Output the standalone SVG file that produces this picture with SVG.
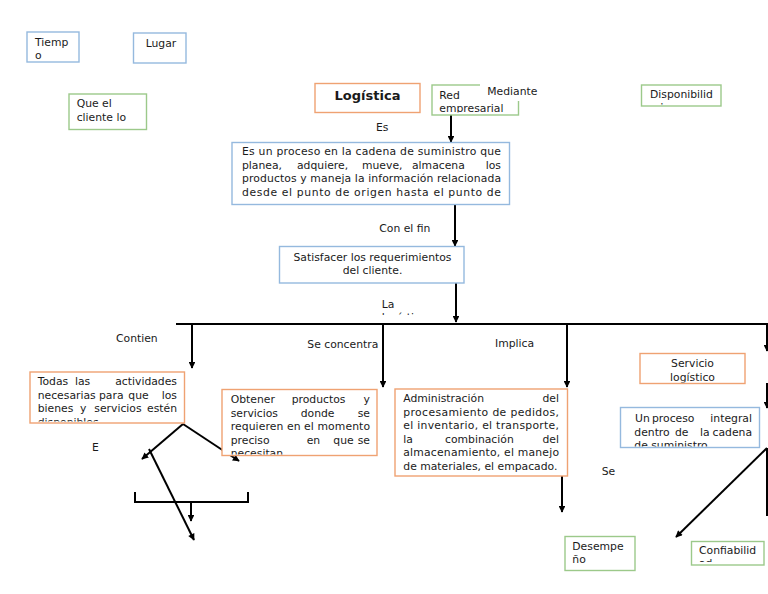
<svg xmlns="http://www.w3.org/2000/svg" width="768" height="594" viewBox="0 0 768 594">
<style>
text{font-family:"DejaVu Sans","Noto Sans",sans-serif;font-size:10.8px;fill:#1a1a1a}
.b{fill:#fff;stroke:#95B9DE;stroke-width:1.4}
.o{fill:#fff;stroke:#EFA272;stroke-width:1.4}
.g{fill:#fff;stroke:#9CC98A;stroke-width:1.4}
.c{fill:none;stroke:#000;stroke-width:2}
.a{marker-end:url(#ah)}
.e{text-anchor:end}
.m{text-anchor:middle}
.t{font-weight:bold;font-size:13px}
</style>
<defs>
<marker id="ah" viewBox="0 0 10 10" refX="9" refY="5" markerWidth="3.8" markerHeight="3.4" orient="auto" markerUnits="strokeWidth"><path d="M0,0L10,5L0,10z" fill="#000"/></marker>
<clipPath id="cRed"><rect x="432" y="85" width="87" height="27.5"/></clipPath>
<clipPath id="cTodas"><rect x="30" y="372" width="155" height="49.5"/></clipPath>
<clipPath id="cObt"><rect x="222" y="389" width="155" height="65.5"/></clipPath>
<clipPath id="cServ"><rect x="640" y="353" width="105" height="29.5"/></clipPath>
<clipPath id="cUn"><rect x="620" y="407" width="139" height="39.5"/></clipPath>
<clipPath id="cLa"><rect x="370" y="290" width="50" height="25"/></clipPath>
<clipPath id="cDisp"><rect x="641" y="85" width="80" height="19.5"/></clipPath>
<clipPath id="cConf"><rect x="691" y="541" width="73" height="21"/></clipPath>
</defs>
<rect width="768" height="594" fill="#fff"/>

<g id="connectors">
<path class="c a" d="M451,115V142"/>
<path class="c a" d="M455,205V246"/>
<path class="c a" d="M456,283V322"/>
<path class="c" d="M176,324H768"/>
<path class="c a" d="M192,324V368"/>
<path class="c a" d="M383,324V387"/>
<path class="c a" d="M567,324V387"/>
<path class="c a" d="M767,324V351"/>
<path class="c a" d="M767,383V408"/>
<path class="c a" d="M562,476V512"/>
<path class="c" d="M767,448V516"/>
<path class="c a" d="M767,448L676,537"/>
<path class="c a" d="M183,424L142,459"/>
<path class="c a" d="M183,424L239,461"/>
<path class="c a" d="M149,449L194,540"/>
<path class="c" d="M135,492V502H248V492"/>
<path class="c a" d="M191,502V521"/>
</g>

<g id="labels">
<text x="376" y="131">Es</text>
<text x="379.3" y="232">Con el fin</text>
<text x="381.7" y="308">La</text>
<text x="381.7" y="321.4" clip-path="url(#cLa)">logística</text>
<text x="116" y="342">Contien</text>
<text x="307.3" y="347.5">Se concentra</text>
<text x="495" y="347">Implica</text>
<text x="92" y="450.5">E</text>
<text x="601.7" y="475">Se</text>
</g>

<g id="tiempo">
<rect class="b" x="27" y="32" width="52" height="30"/>
<text x="35" y="45.5">Tiemp</text>
<text x="35" y="59">o</text>
</g>

<g id="lugar">
<rect class="b" x="133.5" y="33" width="52.5" height="30"/>
<text x="145.7" y="47">Lugar</text>
</g>

<g id="que-el-cliente">
<rect class="g" x="69" y="94" width="77.5" height="35.5"/>
<text x="76.7" y="107">Que el</text>
<text x="76.7" y="120.5">cliente lo</text>
</g>

<g id="logistica">
<rect class="o" x="315" y="83.5" width="105" height="29"/>
<text class="m t" x="367.5" y="100">Logística</text>
</g>

<g id="red-empresarial">
<rect class="g" x="432" y="85" width="86.5" height="30"/>
<g clip-path="url(#cRed)">
<text x="439.3" y="99">Red</text>
<text x="439.3" y="112">empresarial</text>
</g>
</g>

<g id="mediante">
<rect x="480" y="79" width="60" height="22" fill="#fff"/>
<text x="487.3" y="94.5">Mediante</text>
</g>

<g id="disponibilidad">
<rect class="g" x="641.5" y="85" width="79.5" height="21"/>
<g clip-path="url(#cDisp)">
<text x="650" y="97.5">Disponibilid</text>
<text x="650" y="111">ad</text>
</g>
</g>

<g id="definicion">
<rect class="b" x="232" y="142.5" width="277.5" height="62"/>
<text x="242" y="155" textLength="259" lengthAdjust="spacing">Es un proceso en la cadena de suministro que</text>
<text x="242" y="168.5">planea,</text>
<text x="297" y="168.5">adquiere,</text>
<text x="362" y="168.5">mueve,</text>
<text x="412" y="168.5">almacena</text>
<text class="e" x="501" y="168.5">los</text>
<text x="242" y="182" textLength="259" lengthAdjust="spacing">productos y maneja la información relacionada</text>
<text x="242" y="195.5" textLength="259" lengthAdjust="spacing">desde el punto de origen hasta el punto de</text>
</g>

<g id="satisfacer">
<rect class="b" x="279.5" y="246.5" width="184.5" height="36.5"/>
<text class="m" x="372.5" y="260.5">Satisfacer los requerimientos</text>
<text class="m" x="372.5" y="273.5">del cliente.</text>
</g>

<g id="todas-actividades">
<rect class="o" x="30" y="372" width="154.5" height="51"/>
<g clip-path="url(#cTodas)">
<text x="37.7" y="385">Todas</text>
<text x="75" y="385">las</text>
<text class="e" x="177" y="385">actividades</text>
<text x="37.7" y="398.5">necesarias</text>
<text x="99" y="398.5">para</text>
<text x="128.3" y="398.5">que</text>
<text class="e" x="177" y="398.5">los</text>
<text x="37.7" y="412">bienes</text>
<text x="80" y="412">y</text>
<text x="94.3" y="412">servicios</text>
<text class="e" x="177" y="412">estén</text>
<text x="37.7" y="425.5">disponibles</text>
</g>
</g>

<g id="obtener">
<rect class="o" x="222" y="389.5" width="155" height="66"/>
<g clip-path="url(#cObt)">
<text x="230.7" y="403">Obtener</text>
<text x="291.7" y="403">productos</text>
<text class="e" x="370" y="403">y</text>
<text x="230.7" y="416.5">servicios</text>
<text x="300.7" y="416.5">donde</text>
<text class="e" x="370" y="416.5">se</text>
<text x="230.7" y="430" textLength="139.3" lengthAdjust="spacing">requieren en el momento</text>
<text x="230.7" y="443.5">preciso</text>
<text x="306.7" y="443.5">en</text>
<text x="333.3" y="443.5">que</text>
<text class="e" x="370" y="443.5">se</text>
<text x="230.7" y="457">necesitan</text>
</g>
</g>

<g id="administracion">
<rect class="o" x="395" y="389" width="172.5" height="87"/>
<text x="403.3" y="402">Administración</text>
<text class="e" x="559" y="402">del</text>
<text x="403.3" y="415.5" textLength="155.7" lengthAdjust="spacing">procesamiento de pedidos,</text>
<text x="403.3" y="429" textLength="155.7" lengthAdjust="spacing">el inventario, el transporte,</text>
<text x="403.3" y="442.5">la</text>
<text x="445" y="442.5">combinación</text>
<text class="e" x="559" y="442.5">del</text>
<text x="403.3" y="456" textLength="155.7" lengthAdjust="spacing">almacenamiento, el manejo</text>
<text x="403.3" y="469.5">de materiales, el empacado.</text>
</g>

<g id="servicio-logistico">
<rect class="o" x="640" y="353.5" width="105" height="30"/>
<g clip-path="url(#cServ)">
<text class="m" x="692.5" y="367">Servicio</text>
<text class="m" x="692.5" y="380.5">logístico</text>
</g>
</g>

<g id="proceso-integral">
<rect class="b" x="620.5" y="407.5" width="139" height="40"/>
<g clip-path="url(#cUn)">
<text x="635" y="422">Un</text>
<text x="652" y="422">proceso</text>
<text class="e" x="752" y="422">integral</text>
<text x="634.3" y="435.5">dentro</text>
<text x="675" y="435.5">de</text>
<text x="700" y="435.5">la</text>
<text class="e" x="752" y="435.5">cadena</text>
<text x="634.3" y="449">de suministro</text>
</g>
</g>

<g id="desempeno">
<rect class="g" x="565" y="536.5" width="70" height="34"/>
<text x="572.3" y="550">Desempe</text>
<text x="572.3" y="563">ño</text>
</g>

<g id="confiabilidad">
<rect class="g" x="691.5" y="541.5" width="72.5" height="23.5"/>
<g clip-path="url(#cConf)">
<text x="699" y="554">Confiabilid</text>
<text x="699" y="567.4">ad</text>
</g>
</g>
</svg>
